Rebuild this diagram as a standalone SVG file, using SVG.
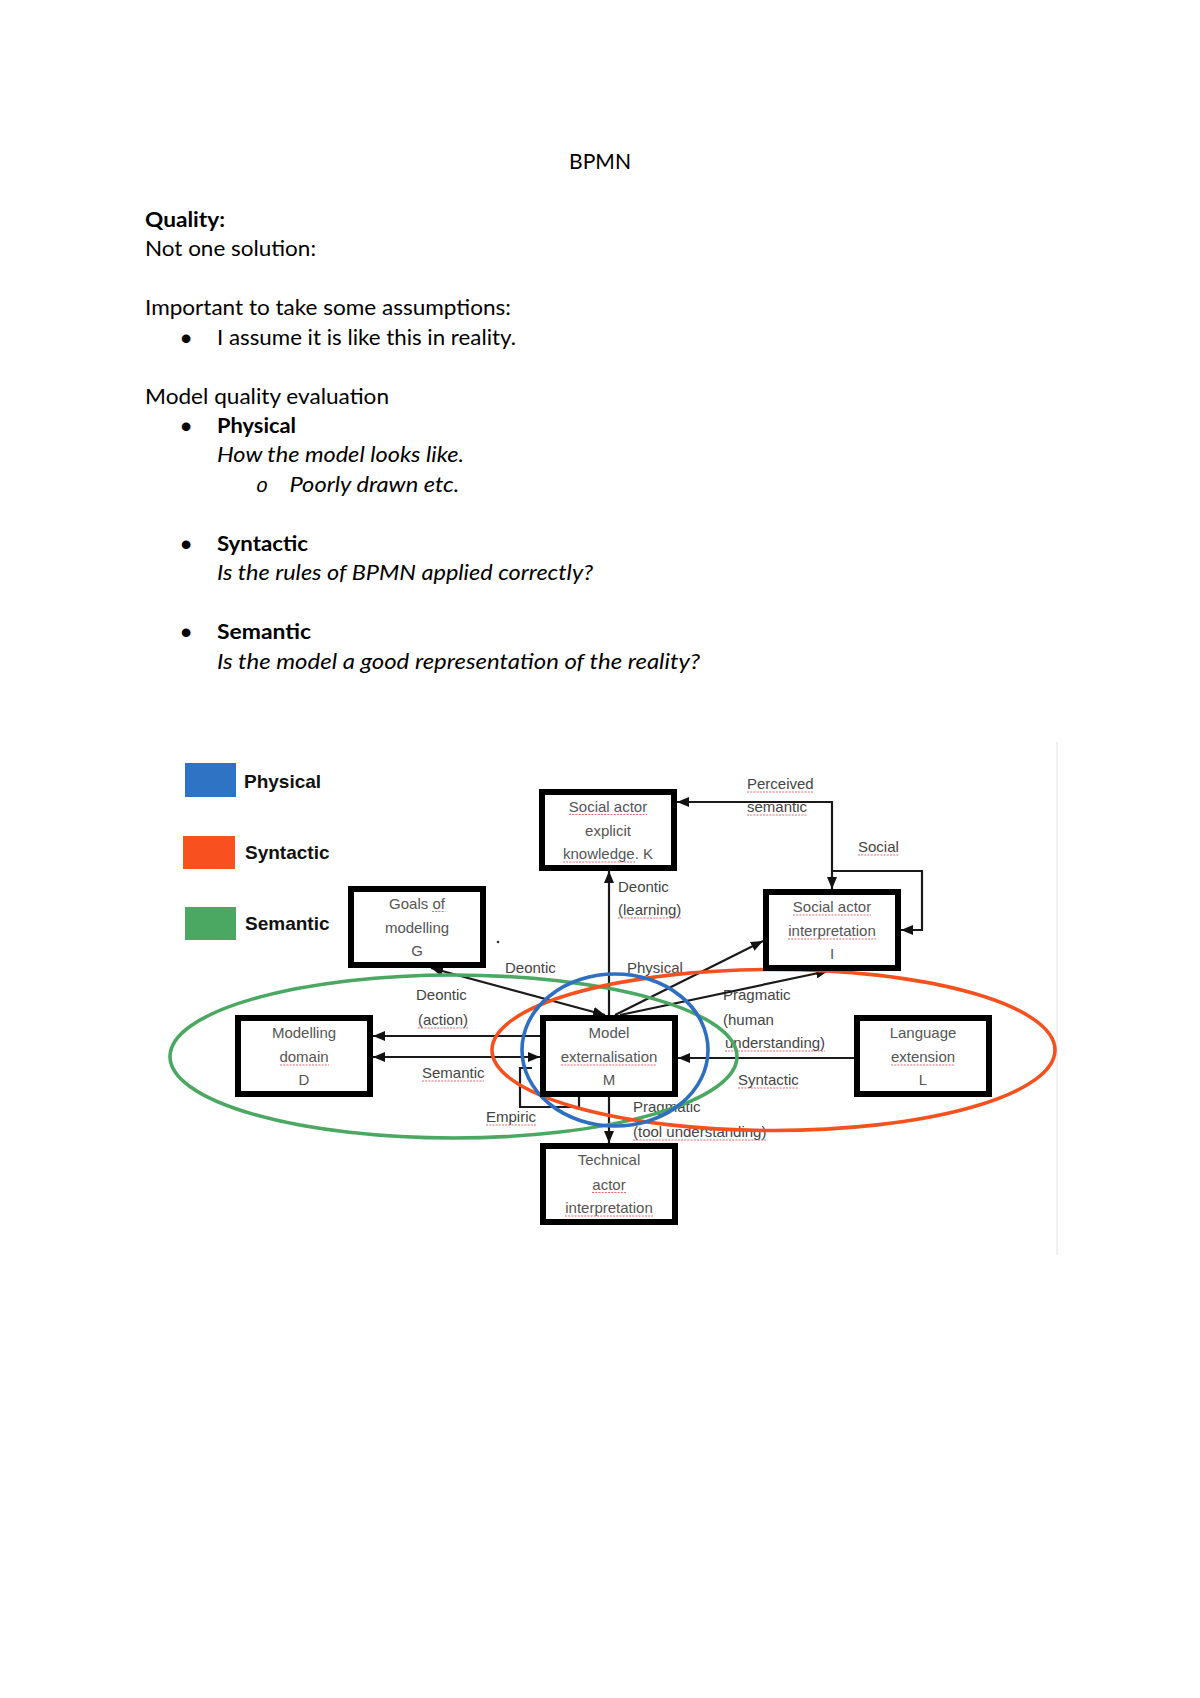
<svg xmlns="http://www.w3.org/2000/svg" width="1200" height="1698" viewBox="0 0 1200 1698">
<defs>
<marker id="ah" viewBox="0 0 12 10" refX="12" refY="5" markerWidth="12" markerHeight="10" markerUnits="userSpaceOnUse" orient="auto-start-reverse"><path d="M0,0 L12,5 L0,10 z" fill="#111"/></marker>
</defs>
<style>
.doc{font-family:Lato,"Liberation Sans",sans-serif;font-size:20.5px;fill:#000}
.b{font-weight:bold}
.i{font-style:italic}
.bul{font-family:"Liberation Sans",sans-serif;font-size:32px;text-anchor:middle;fill:#000}
.sub{font-family:"Liberation Mono",monospace;font-size:20px;font-style:italic;fill:#000}
.leg{font-family:"Liberation Sans",Arial,sans-serif;font-weight:bold;font-size:19px;fill:#111}
.box{fill:#fff;stroke:#000;stroke-width:6}
.nt{font-family:"Liberation Sans",Arial,sans-serif;font-size:15px;fill:#555;text-anchor:middle}
.lb{font-family:"Liberation Sans",Arial,sans-serif;font-size:15px;fill:#444}
.cn{fill:none;stroke:#1a1a1a;stroke-width:2.2}
.sp{stroke:#e03c3c;stroke-width:1;stroke-dasharray:2 1.2;opacity:0.75}
.ell{fill:none;stroke-width:3.6}
</style>
<rect width="1200" height="1698" fill="#fff"/>

<g id="document-text">
<text class="doc" x="569" y="168.5" textLength="62" lengthAdjust="spacingAndGlyphs">BPMN</text>
<text class="doc b" x="145" y="226.8" textLength="80" lengthAdjust="spacingAndGlyphs">Quality:</text>
<text class="doc" x="145" y="256.3" textLength="171" lengthAdjust="spacingAndGlyphs">Not one solution:</text>
<text class="doc" x="145" y="315.2" textLength="366" lengthAdjust="spacingAndGlyphs">Important to take some assumptions:</text>
<text class="bul" x="186" y="348.6">•</text>
<text class="doc" x="217" y="344.6" textLength="299" lengthAdjust="spacingAndGlyphs">I assume it is like this in reality.</text>
<text class="doc" x="145" y="403.5" textLength="244" lengthAdjust="spacingAndGlyphs">Model quality evaluation</text>
<text class="bul" x="186" y="437">•</text>
<text class="doc b" x="217" y="433" textLength="79" lengthAdjust="spacingAndGlyphs">Physical</text>
<text class="doc i" x="217" y="462.4" textLength="247" lengthAdjust="spacingAndGlyphs">How the model looks like.</text>
<text class="sub" x="256" y="491.9">o</text>
<text class="doc i" x="289.4" y="491.9" textLength="170" lengthAdjust="spacingAndGlyphs">Poorly drawn etc.</text>
<text class="bul" x="186" y="554.8">•</text>
<text class="doc b" x="217" y="550.8" textLength="91" lengthAdjust="spacingAndGlyphs">Syntactic</text>
<text class="doc i" x="217" y="580.2" textLength="376" lengthAdjust="spacingAndGlyphs">Is the rules of BPMN applied correctly?</text>
<text class="bul" x="186" y="643.1">•</text>
<text class="doc b" x="217" y="639.1" textLength="94" lengthAdjust="spacingAndGlyphs">Semantic</text>
<text class="doc i" x="217" y="668.6" textLength="483" lengthAdjust="spacingAndGlyphs">Is the model a good representation of the reality?</text>
</g>

<g id="image-frame">
<line x1="1057" y1="742" x2="1057" y2="1255" stroke="#ececec" stroke-width="1.5"/>
</g>

<g id="legend">
<rect x="185" y="763" width="51" height="34" fill="#2f74c4"/>
<text class="leg" x="244" y="788">Physical</text>
<rect x="183" y="836" width="52" height="33" fill="#f8501f"/>
<text class="leg" x="245" y="859">Syntactic</text>
<rect x="185" y="907" width="51" height="33" fill="#4aa862"/>
<text class="leg" x="245" y="930">Semantic</text>
</g>

<g id="edge-labels">
<text class="lb" x="618" y="892">Deontic</text>
<text class="lb" x="618" y="915">(learning)</text>
<text class="lb" x="747" y="789">Perceived</text>
<text class="lb" x="747" y="812">semantic</text>
<text class="lb" x="858" y="852">Social</text>
<text class="lb" x="627" y="973">Physical</text>
<text class="lb" x="505" y="973">Deontic</text>
<text class="lb" x="723" y="1000">Pragmatic</text>
<text class="lb" x="723" y="1025">(human</text>
<text class="lb" x="725" y="1048">understanding)</text>
<text class="lb" x="416" y="1000">Deontic</text>
<text class="lb" x="418" y="1025">(action)</text>
<text class="lb" x="422" y="1078">Semantic</text>
<text class="lb" x="738" y="1085">Syntactic</text>
<text class="lb" x="486" y="1122">Empiric</text>
<text class="lb" x="633" y="1112">Pragmatic</text>
<text class="lb" x="633" y="1137">(tool understanding)</text>
<line class="sp" x1="618" y1="918" x2="681" y2="918"/>
<line class="sp" x1="747" y1="792" x2="814" y2="792"/>
<line class="sp" x1="747" y1="815" x2="807" y2="815"/>
<line class="sp" x1="858" y1="855" x2="899" y2="855"/>
<line class="sp" x1="725" y1="1051" x2="825" y2="1051"/>
<line class="sp" x1="418" y1="1028" x2="468" y2="1028"/>
<line class="sp" x1="422" y1="1081" x2="484" y2="1081"/>
<line class="sp" x1="738" y1="1088" x2="799" y2="1088"/>
<line class="sp" x1="486" y1="1125" x2="536" y2="1125"/>
<line class="sp" x1="633" y1="1140" x2="766" y2="1140"/>
<circle cx="498" cy="942" r="1.3" fill="#333"/>
</g>

<g id="connectors">
<path class="cn" d="M609,1015 V871" marker-end="url(#ah)"/>
<path class="cn" d="M832,889 V802 H677" marker-start="url(#ah)" marker-end="url(#ah)"/>
<path class="cn" d="M832,871 H922 V930 H901" marker-end="url(#ah)"/>
<path class="cn" d="M615,1015 L763,941" marker-end="url(#ah)"/>
<path class="cn" d="M620,1015 L828,971" marker-end="url(#ah)"/>
<path class="cn" d="M605,1015 L431,968" marker-start="url(#ah)" marker-end="url(#ah)"/>
<path class="cn" d="M540,1036 H373" marker-end="url(#ah)"/>
<path class="cn" d="M373,1057 H540" marker-start="url(#ah)" marker-end="url(#ah)"/>
<path class="cn" d="M854,1058 H678" marker-end="url(#ah)"/>
<path class="cn" d="M609,1097 V1143" marker-end="url(#ah)"/>
<path class="cn" d="M579,1097 V1107 H520 V1068 H532"/>
</g>

<g id="quality-ellipses">
<ellipse class="ell" cx="453.5" cy="1056.5" rx="283.5" ry="81.5" stroke="#4aa862"/>
<ellipse class="ell" cx="773.5" cy="1050" rx="281.5" ry="80.5" stroke="#f4511e"/>
<ellipse class="ell" cx="615" cy="1050" rx="93" ry="76" stroke="#2f6fc0"/>
</g>

<g id="node-K">
<rect class="box" x="542" y="792" width="132" height="76"/>
<text class="nt" x="608" y="811.5">Social actor</text>
<text class="nt" x="608" y="835.5">explicit</text>
<text class="nt" x="608" y="859">knowledge. K</text>
<line class="sp" x1="569" y1="814.5" x2="647" y2="814.5"/>
<line class="sp" x1="563" y1="862" x2="635" y2="862"/>
</g>

<g id="node-G">
<rect class="box" x="351" y="889" width="132" height="76"/>
<text class="nt" x="417" y="908.5">Goals of</text>
<text class="nt" x="417" y="932.5">modelling</text>
<text class="nt" x="417" y="956">G</text>
<line class="sp" x1="432" y1="911.5" x2="445" y2="911.5"/>
</g>

<g id="node-I">
<rect class="box" x="766" y="892" width="132" height="76"/>
<text class="nt" x="832" y="912">Social actor</text>
<text class="nt" x="832" y="936">interpretation</text>
<text class="nt" x="832" y="959">I</text>
<line class="sp" x1="793" y1="915" x2="871" y2="915"/>
<line class="sp" x1="788" y1="939" x2="876" y2="939"/>
</g>

<g id="node-D">
<rect class="box" x="238" y="1018" width="132" height="76"/>
<text class="nt" x="304" y="1038">Modelling</text>
<text class="nt" x="304" y="1062">domain</text>
<text class="nt" x="304" y="1085">D</text>
<line class="sp" x1="280" y1="1065" x2="329" y2="1065"/>
</g>

<g id="node-M">
<rect class="box" x="543" y="1018" width="132" height="76"/>
<text class="nt" x="609" y="1038">Model</text>
<text class="nt" x="609" y="1062">externalisation</text>
<text class="nt" x="609" y="1085">M</text>
<line class="sp" x1="561" y1="1065" x2="657" y2="1065"/>
</g>

<g id="node-L">
<rect class="box" x="857" y="1018" width="132" height="76"/>
<text class="nt" x="923" y="1038">Language</text>
<text class="nt" x="923" y="1062">extension</text>
<text class="nt" x="923" y="1085">L</text>
<line class="sp" x1="891" y1="1065" x2="955" y2="1065"/>
</g>

<g id="node-T">
<rect class="box" x="543" y="1146" width="132" height="76"/>
<text class="nt" x="609" y="1165">Technical</text>
<text class="nt" x="609" y="1189.5">actor</text>
<text class="nt" x="609" y="1213">interpretation</text>
<line class="sp" x1="592" y1="1192.5" x2="626" y2="1192.5"/>
<line class="sp" x1="565" y1="1216" x2="653" y2="1216"/>
</g>
</svg>
